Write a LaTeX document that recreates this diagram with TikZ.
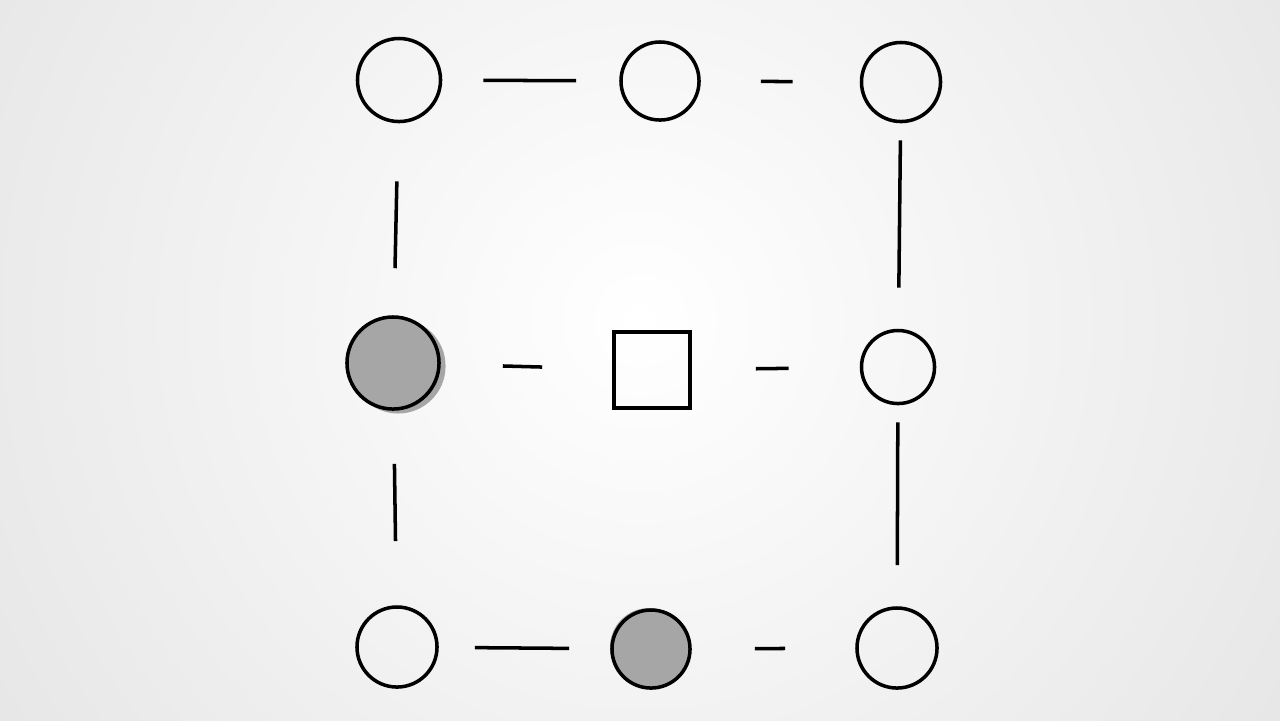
\documentclass[tikz,border=0pt]{standalone}
\usetikzlibrary{shadows}

\begin{document}
\begin{tikzpicture}[x=0.01cm, y=-0.01cm,  dot/.style={    draw,    circle,    line width=1pt,    inner sep=0pt  },  blob/.style={    dot,    fill=black!35  },  box/.style={    draw,    rectangle,    line width=1pt,    minimum size=7.6mm,    inner sep=0pt  },  link/.style={    line width=1pt  }]
		% Background
		\useasboundingbox (0,0) rectangle (1280,720);
		\begin{scope}
			\clip (0,0) rectangle (1280,720);
			\shade[inner color=white, outer color=black!17] (640,320) circle (13.5cm);
		\end{scope}
		% Nodes
		\node[dot, minimum size=8.3mm] (TL) at (399,80) {};
		\node[dot, minimum size=7.8mm] (TM) at (660,81) {};
		\node[dot, minimum size=7.9mm] (TR) at (901,82) {};
		\node[blob, minimum size=9.2mm, drop shadow={shadow xshift=0.5mm, shadow yshift=-0.3mm, shadow scale=1.03, fill=black!35, opacity=1}] (ML) at (393,363) {};
		\node[box] (MM) at (652,370) {};
		\node[dot, minimum size=7.3mm] (MR) at (898,367) {};
		\node[dot, minimum size=8mm] (BL) at (397,647) {};
		\node[blob, minimum size=7.8mm, drop shadow={shadow xshift=-0.2mm, shadow yshift=0.2mm, fill=black!35, opacity=1}] (BM) at (651,649) {};
		\node[dot, minimum size=8mm] (BR) at (897,648) {};
		% Connectors
		\draw[link, shorten <=4.1mm, shorten >=4.3mm] (TL) -- (TM);
		\draw[link, shorten <=6mm, shorten >=6.7mm] (TM) -- (TR);
		\draw[link, shorten <=1.7mm, shorten >=4.1mm] (TR) -- (MR);
		\draw[link, shorten <=1.7mm, shorten >=4.1mm] (MR) -- (BR);
		\draw[link, shorten <=5.8mm, shorten >=4.7mm] (TL) -- (ML);
		\draw[link, shorten <=5.3mm, shorten >=6.4mm] (ML) -- (BL);
		\draw[link, shorten <=6.2mm, shorten >=7mm] (ML) -- (MM);
		\draw[link, shorten <=6.4mm, shorten >=7.1mm] (MM) -- (MR);
		\draw[link, shorten <=3.6mm, shorten >=4.1mm] (BL) -- (BM);
		\draw[link, shorten <=6.3mm, shorten >=7mm] (BM) -- (BR);
	\end{tikzpicture}
\end{document}
